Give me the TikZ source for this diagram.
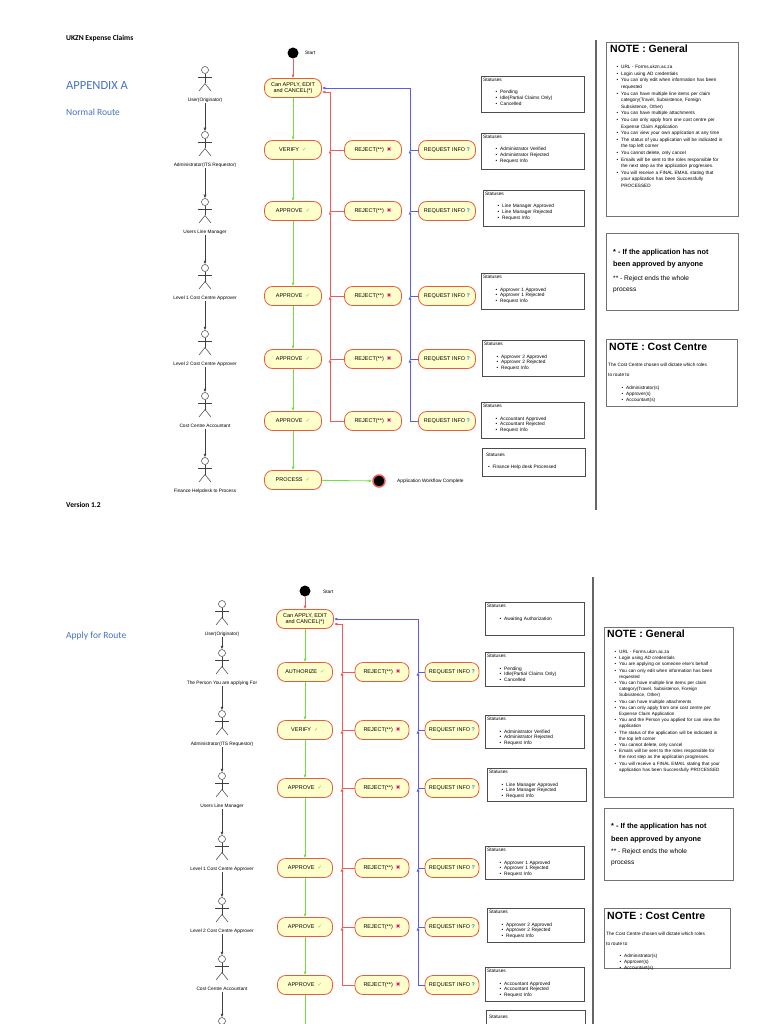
\documentclass[tikz,border=0pt]{standalone}
\usepackage{fontspec}
\setmainfont{Liberation Sans}
\newfontfamily\calf{Carlito}
\newfontfamily\symf{DejaVu Sans}
\usepackage{enumitem}
\setlist[itemize]{label=\textbullet,leftmargin=9pt,labelsep=3pt,nosep}
\usetikzlibrary{arrows.meta}
\definecolor{nfill}{RGB}{255,255,204}
\definecolor{nbd}{RGB}{232,92,60}
\definecolor{rl}{RGB}{240,90,90}
\definecolor{bl}{RGB}{90,90,240}
\definecolor{gl}{RGB}{110,225,60}
\definecolor{okg}{RGB}{120,200,60}
\definecolor{xm}{RGB}{220,20,110}
\definecolor{qb}{RGB}{40,130,230}
\definecolor{ttl}{RGB}{68,114,196}
\newcommand\mOK{{\symf\color{okg}✓}}
\newcommand\mX{{\symf\bfseries\color{xm}✖}}
\newcommand\mQ{{\bfseries\color{qb}?}}
\begin{document}
\begin{tikzpicture}[x=1pt,y=-1pt,
  st/.style={draw=nbd,fill=nfill,rounded corners=8pt,minimum width=57pt,minimum height=19pt,font=\fontsize{5.5}{6.5}\selectfont,line width=0.8pt,align=center,inner sep=1pt},
  sbox/.style={draw=black!70,line width=0.9pt,inner sep=0},
  stt/.style={font=\fontsize{4.8}{5.8}\selectfont,inner sep=0,align=left},
  nbox/.style={draw=black!55,line width=1.1pt,inner sep=0},
  ntxt/.style={font=\fontsize{4.7}{6.6}\selectfont,inner sep=0,align=left,text width=112pt},
  alab/.style={font=\fontsize{4.8}{5.8}\selectfont,inner sep=1pt},
  act/.style={draw=black!75,line width=0.5pt},
  aarr/.style={draw=black!75,line width=0.6pt,-{Latex[length=3.5pt,width=3pt]}},
  gr/.style={draw=gl,line width=0.8pt,-{Latex[length=3.5pt,width=3pt]}},
  rd/.style={draw=rl,line width=0.8pt},
  bu/.style={draw=bl,line width=0.8pt},
  tip/.style={-{Latex[length=3.5pt,width=3pt]}},
  startc/.style={circle,fill=black,minimum size=11pt,inner sep=0},
  endc/.style={circle,fill=black,draw=rl,line width=1.5pt,minimum size=12pt,inner sep=0},
  small/.style={font=\fontsize{4.8}{5.8}\selectfont,inner sep=0,anchor=west}]
\useasboundingbox (0,0) rectangle (768,1024);
\fill[white] (0,0) rectangle (768,1024);
\newcommand\actor[4]{%
  \node[act,circle,inner sep=0,minimum size=7pt] (#1h) at (#2,#3) {};
  \draw[act] (#1h.south) -- (#2,#3+13.5);
  \draw[act] (#2-7,#3+7) -- (#2+7,#3+7);
  \draw[act] (#2,#3+13.5) -- (#2-6,#3+21);
  \draw[act] (#2,#3+13.5) -- (#2+6,#3+21);
  \node[alab] (#1l) at (#2,#3+30) {#4};}
\newcommand\statbox[6]{%
  \node[sbox,anchor=north west,minimum width=#3,minimum height=#4] (#5) at (#1,#2) {};
  \node[stt,anchor=north west] (#5t) at (#1+2,#2+2) {Statuses};
  \node[stt,anchor=north west,text width=80pt] (#5l) at (#1+10,#2+12) {\begin{itemize}#6\end{itemize}};}
% ================= TOP =================
\node[anchor=west,inner sep=0,font=\calf\bfseries\fontsize{7.5}{9}\selectfont] (t1) at (66,38) {UKZN Expense Claims};
\node[anchor=west,inner sep=0,font=\calf\fontsize{12.5}{14}\selectfont,text=ttl] (t2) at (66,85) {APPENDIX A};
\node[anchor=west,inner sep=0,font=\calf\fontsize{9.5}{11}\selectfont,text=ttl] (t3) at (66,112) {Normal Route};
\node[anchor=west,inner sep=0,font=\calf\bfseries\fontsize{7.5}{9}\selectfont] (t4) at (66,505) {Version 1.2};
\draw[black!60,line width=1.3pt] (596,40) coordinate (dv1) -- (596,510) coordinate (dv2);
\actor{ua}{205}{70}{User(Originator)}
\actor{ub}{205}{135}{Administrator(ITS Requestor)}
\actor{uc}{205}{202}{Users Line Manager}
\actor{ud}{205}{268}{Level 1 Cost Centre Approver}
\actor{ue}{205}{334}{Level 2 Cost Centre Approver}
\actor{uf}{205}{396}{Cost Centre Accountant}
\actor{ug}{205}{461}{Finance Helpdesk to Process}
\draw[aarr] (ual) -- (ubh); \draw[aarr] (ubl) -- (uch); \draw[aarr] (ucl) -- (udh);
\draw[aarr] (udl) -- (ueh); \draw[aarr] (uel) -- (ufh); \draw[aarr] (ufl) -- (ugh);
\node[startc] (s0) at (293,53) {};
\node[small] (s0l) at (305,53) {Start};
\node[st] (a0) at (293,88) {Can APPLY, EDIT\\and CANCEL(*)};
\foreach \i/\y/\t in {1/150/VERIFY,2/211/APPROVE,3/296/APPROVE,4/359/APPROVE,5/421/APPROVE}{
  \node[st] (m\i) at (293,\y) {\t\ \ \mOK};
  \node[st] (j\i) at (373,\y) {REJECT(**)\ \ \mX};
  \node[st] (q\i) at (447,\y) {REQUEST INFO \mQ};
  \coordinate (rj\i) at (330,\y);
  \coordinate (bj\i) at (410,\y);
  \draw[rd] (j\i) -- (rj\i);
  \draw[bu] (q\i) -- (bj\i);
}
\node[st] (p0) at (293,480) {PROCESS\ \ \mOK};
\node[endc] (e0) at (379,481) {};
\node[small] (e0l) at (397,481) {Application Workflow Complete};
\draw[draw=rl,line width=0.8pt,tip] (s0) -- (a0);
\draw[gr] (a0) -- (m1); \draw[gr] (m1) -- (m2); \draw[gr] (m2) -- (m3);
\draw[gr] (m3) -- (m4); \draw[gr] (m4) -- (m5); \draw[gr] (m5) -- (p0); \draw[gr] (p0) -- (e0);
\draw[rd,tip] (rj5) -- (rj4); \draw[rd,tip] (rj4) -- (rj3); \draw[rd,tip] (rj3) -- (rj2); \draw[rd,tip] (rj2) -- (rj1);
\coordinate (rt0) at (330,92);
\draw[rd,tip] (rj1) -- (rt0) -- (a0.east |- rt0);
\draw[bu,tip] (bj5) -- (bj4); \draw[bu,tip] (bj4) -- (bj3); \draw[bu,tip] (bj3) -- (bj2); \draw[bu,tip] (bj2) -- (bj1);
\coordinate (bt0) at (410,88);
\draw[bu,tip] (bj1) -- (bt0) -- (a0.east |- bt0);
\statbox{481}{76}{103}{36}{sa1}{\item Pending \item Idle(Partial Claims Only) \item Cancelled}
\statbox{481}{133}{103}{36}{sa2}{\item Administrator Verified \item Administrator Rejected \item Request Info}
\statbox{483}{190}{101}{36}{sa3}{\item Line Manager Approved \item Line Manager Rejected \item Request Info}
\statbox{481}{273}{103}{36}{sa4}{\item Approver 1 Approved \item Approver 1 Rejected \item Request Info}
\statbox{482}{340}{102}{36}{sa5}{\item Approver 2 Approved \item Approver 2 Rejected \item Request Info}
\statbox{481}{402}{103}{36}{sa6}{\item Accountant Approved \item Accountant Rejected \item Request Info}
\node[sbox,anchor=north west,minimum width=103,minimum height=28] (sa7) at (482,448) {};
\node[stt,anchor=north west] (sa7t) at (486,453) {Statuses};
\node[stt,anchor=north west] (sa7l) at (488,465) {\textbullet\ \ Finance Help desk Processed};
% notes top
\node[nbox,anchor=north west,minimum width=132,minimum height=174] (na1) at (606,42) {};
\node[anchor=north west,inner sep=0,font=\bfseries\fontsize{10.5}{12}\selectfont] (na1t) at (610,45) {NOTE : General};
\node[ntxt,anchor=north west] (na1l) at (612,62) {\begin{itemize}
\item URL - Forms.ukzn.ac.za
\item Login using AD credentials
\item You can only edit when information has been requested
\item You can have multiple line items per claim category(Travel, Subsistence, Foreign Subsistence, Other)
\item You can have multiple attachments
\item You can only apply from one cost centre per Expense Claim Application
\item You can view your own application at any time
\item The status of you application will be indicated in the top left corner
\item You cannot delete, only cancel
\item Emails will be sent to the roles responsible for the next step as the application progresses.
\item You will receive a FINAL EMAIL stating that your application has been Successfully PROCESSED
\end{itemize}};
\node[nbox,anchor=north west,minimum width=132,minimum height=77] (na2) at (606,233) {};
\node[anchor=north west,inner sep=0,align=left,font=\bfseries\fontsize{7.3}{12.5}\selectfont] (na2t) at (613,249) {* - If the application has not\\been approved by anyone};
\node[anchor=north west,inner sep=0,align=left,font=\fontsize{6.6}{11}\selectfont] (na2u) at (613,276) {** - Reject ends the whole\\process};
\node[nbox,anchor=north west,minimum width=131,minimum height=67] (na3) at (606,339) {};
\node[anchor=north west,inner sep=0,font=\bfseries\fontsize{10.5}{12}\selectfont] (na3t) at (609,343) {NOTE : Cost Centre};
\node[anchor=north west,inner sep=0,align=left,font=\fontsize{4.7}{10}\selectfont] (na3u) at (608,363) {The Cost Centre chosen will dictate which roles\\to route to};
\node[ntxt,anchor=north west,font=\fontsize{4.7}{5.6}\selectfont] (na3l) at (617,384) {\begin{itemize}\item Administrator(s) \item Approver(s) \item Accountant(s)\end{itemize}};
% ================= BOTTOM =================
\node[anchor=west,inner sep=0,font=\calf\fontsize{9.5}{11}\selectfont,text=ttl] (t5) at (66,636) {Apply for Route};
\draw[black!60,line width=1.3pt] (593,577) coordinate (dv3) -- (593,1024) coordinate (dv4);
\actor{va}{222}{604}{User(Originator)}
\actor{vb}{222}{653}{The Person You are applying For}
\actor{vc}{222}{714}{Administrator(ITS Requestor)}
\actor{vd}{222}{776}{Users Line Manager}
\actor{ve}{222}{839}{Level 1 Cost Centre Approver}
\actor{vf}{222}{901}{Level 2 Cost Centre Approver}
\actor{vg}{222}{959}{Cost Centre Accountant}
\node[act,circle,inner sep=0,minimum size=7pt] (vhh) at (222,1021) {};
\draw[aarr] (val) -- (vbh); \draw[aarr] (vbl) -- (vch); \draw[aarr] (vcl) -- (vdh);
\draw[aarr] (vdl) -- (veh); \draw[aarr] (vel) -- (vfh); \draw[aarr] (vfl) -- (vgh); \draw[aarr] (vgl) -- (vhh);
\node[startc] (s1) at (305,591) {};
\node[small] (s1l) at (323,592) {Start};
\node[st] (a1) at (305,619) {Can APPLY, EDIT\\and CANCEL(*)};
\foreach \i/\y/\t in {1/672/AUTHORIZE,2/730/VERIFY,3/788/APPROVE,4/868/APPROVE,5/927/APPROVE,6/985/APPROVE}{
  \node[st,minimum width=55pt] (n\i) at (305,\y) {\t\ \ \mOK};
  \node[st,minimum width=54pt] (k\i) at (382,\y) {REJECT(**)\ \ \mX};
  \node[st,minimum width=54pt] (w\i) at (452,\y) {REQUEST INFO \mQ};
  \coordinate (rk\i) at (342,\y);
  \coordinate (bk\i) at (418,\y);
  \draw[rd] (k\i) -- (rk\i);
  \draw[bu] (w\i) -- (bk\i);
}
\coordinate (gend) at (305,1024);
\draw[draw=rl,line width=0.8pt,tip] (s1) -- (a1);
\draw[gr] (a1) -- (n1); \draw[gr] (n1) -- (n2); \draw[gr] (n2) -- (n3);
\draw[gr] (n3) -- (n4); \draw[gr] (n4) -- (n5); \draw[gr] (n5) -- (n6);
\draw[draw=gl,line width=0.8pt] (n6) -- (gend);
\draw[rd,tip] (rk6) -- (rk5); \draw[rd,tip] (rk5) -- (rk4); \draw[rd,tip] (rk4) -- (rk3); \draw[rd,tip] (rk3) -- (rk2); \draw[rd,tip] (rk2) -- (rk1);
\coordinate (rt1) at (342,624);
\draw[rd,tip] (rk1) -- (rt1) -- (a1.east |- rt1);
\draw[bu,tip] (bk6) -- (bk5); \draw[bu,tip] (bk5) -- (bk4); \draw[bu,tip] (bk4) -- (bk3); \draw[bu,tip] (bk3) -- (bk2); \draw[bu,tip] (bk2) -- (bk1);
\coordinate (bt1) at (418,619);
\draw[bu,tip] (bk1) -- (bt1) -- (a1.east |- bt1);
\statbox{485}{602}{99}{33}{sb1}{\item Awaiting Authorization}
\statbox{485}{652}{99}{34}{sb2}{\item Pending \item Idle(Partial Claims Only) \item Cancelled}
\statbox{485}{715}{99}{33}{sb3}{\item Administrator Verified \item Administrator Rejected \item Request Info}
\statbox{487}{768}{99}{33}{sb4}{\item Line Manager Approved \item Line Manager Rejected \item Request Info}
\statbox{485}{846}{99}{33}{sb5}{\item Approver 1 Approved \item Approver 1 Rejected \item Request Info}
\statbox{487}{908}{97}{34}{sb6}{\item Approver 2 Approved \item Approver 2 Rejected \item Request Info}
\statbox{485}{967}{99}{34}{sb7}{\item Accountant Approved \item Accountant Rejected \item Request Info}
\node[sbox,anchor=north west,minimum width=99,minimum height=30] (sb8) at (486,1010) {};
\node[stt,anchor=north west] (sb8t) at (489,1015) {Statuses};
% notes bottom
\node[nbox,anchor=north west,minimum width=129,minimum height=170] (nb1) at (604,627) {};
\node[anchor=north west,inner sep=0,font=\bfseries\fontsize{10.5}{12}\selectfont] (nb1t) at (607,630) {NOTE : General};
\node[ntxt,anchor=north west,text width=110pt,font=\fontsize{4.6}{6.2}\selectfont] (nb1l) at (610,647) {\begin{itemize}
\item URL - Forms.ukzn.ac.za
\item Login using AD credentials
\item You are applying on someone else's behalf
\item You can only edit when information has been requested
\item You can have multiple line items per claim category(Travel, Subsistence, Foreign Subsistence, Other)
\item You can have multiple attachments
\item You can only apply from one cost centre per Expense Claim Application
\item You and the Person you applied for can view the application
\item The status of the application will be indicated in the top left corner
\item You cannot delete, only cancel
\item Emails will be sent to the roles responsible for the next step as the application progresses.
\item You will receive a FINAL EMAIL stating that your application has been Successfully PROCESSED
\end{itemize}};
\node[nbox,anchor=north west,minimum width=129,minimum height=72] (nb2) at (604,808) {};
\node[anchor=north west,inner sep=0,align=left,font=\bfseries\fontsize{7.3}{12.5}\selectfont] (nb2t) at (611,823) {* - If the application has not\\been approved by anyone};
\node[anchor=north west,inner sep=0,align=left,font=\fontsize{6.6}{11}\selectfont] (nb2u) at (611,849) {** - Reject ends the whole\\process};
\node[nbox,anchor=north west,minimum width=126,minimum height=60] (nb3) at (604,908) {};
\node[anchor=north west,inner sep=0,font=\bfseries\fontsize{10.5}{12}\selectfont] (nb3t) at (607,912) {NOTE : Cost Centre};
\node[anchor=north west,inner sep=0,align=left,font=\fontsize{4.7}{10}\selectfont] (nb3u) at (606,932) {The Cost Centre chosen will dictate which roles\\to route to};
\node[ntxt,anchor=north west,font=\fontsize{4.7}{5.6}\selectfont] (nb3l) at (615,952) {\begin{itemize}\item Administrator(s) \item Approver(s) \item Accountant(s)\end{itemize}};
\end{tikzpicture}
\end{document}
